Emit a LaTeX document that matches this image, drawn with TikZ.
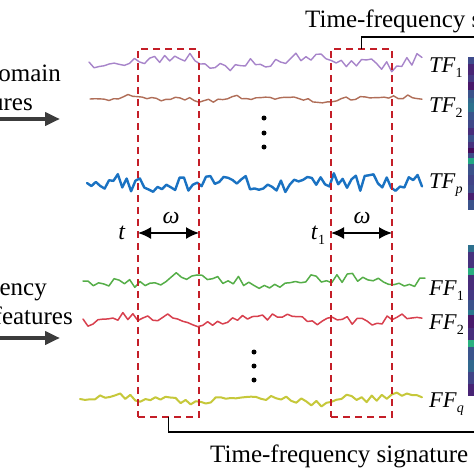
\documentclass[tikz,border=0pt]{standalone}
\usepackage{fontspec}
\setmainfont{Liberation Serif}
\usetikzlibrary{arrows.meta}
\definecolor{boxred}{HTML}{C41E28}
\definecolor{arrgray}{HTML}{3C3C3C}
\definecolor{cP}{HTML}{A784CA}
\definecolor{cB}{HTML}{B06E58}
\definecolor{cBl}{HTML}{1A72C2}
\definecolor{cG}{HTML}{55AE48}
\definecolor{cR}{HTML}{D8404E}
\definecolor{cY}{HTML}{C6C83A}
\newcommand\mysub[1]{\raisebox{-5pt}{\fontsize{14}{14}\selectfont #1}}
\newcommand\mysignal[8]{%
  \pgfmathsetseed{#8}%
  \draw[#1] (#2,#4) \foreach \i in {1,...,#7} { -- ({#2+(#3-#2)/#7*\i},{#4+#5*rand+#6*sin(\i*13+#8*7)+0.6*#6*sin(\i*31+#8)}) };%
}
\begin{document}
\begin{tikzpicture}[x=1pt,y=-1pt,
  lbl/.style={font=\fontsize{25}{30}\selectfont, inner sep=0pt},
  siglbl/.style={font=\fontsize{22.5}{26}\selectfont, inner sep=0pt, anchor=base west},
  symlbl/.style={font=\fontsize{24}{28}\selectfont, inner sep=0pt, anchor=base},
  winbox/.style={draw=boxred, line width=2.2pt, dash pattern=on 7pt off 5pt, minimum width=61pt, minimum height=368pt, inner sep=0pt, outer sep=0pt},
  bigarrow/.style={draw=arrgray, line width=4pt, -{Triangle[length=15pt,width=13pt]}, arrgray},
  dblarrow/.style={line width=1.6pt, {Latex[length=13pt,width=12pt]}-{Latex[length=13pt,width=12pt]}},
  bracket/.style={draw=black, line width=1.1pt},
  sigbase/.style={line join=round, line cap=round},
  sigP/.style={sigbase, draw=cP, line width=1.4pt},
  sigB/.style={sigbase, draw=cB, line width=1.4pt},
  sigBl/.style={sigbase, draw=cBl, line width=2.4pt},
  sigG/.style={sigbase, draw=cG, line width=1.5pt},
  sigR/.style={sigbase, draw=cR, line width=1.5pt},
  sigY/.style={sigbase, draw=cY, line width=2pt}
]
\useasboundingbox (0,0) rectangle (474,474);
\clip (0,0) rectangle (474,474);
\fill[white] (0,0) rectangle (474,474);

% signals
\mysignal{sigP}{89}{422}{62}{5.5}{4}{66}{11}
\mysignal{sigB}{90}{422}{99}{2.2}{1.5}{70}{23}
\mysignal{sigBl}{87}{422}{183}{8.5}{2}{76}{37}
\mysignal{sigG}{83}{425}{281}{4.5}{3.5}{66}{51}
\mysignal{sigR}{83}{422}{319}{4}{3}{68}{67}
\mysignal{sigY}{80}{422}{399}{3.5}{3}{68}{79}

% dots
\foreach \yy in {118,133,147} {\fill (264,\yy) circle[radius=2.5pt];}
\foreach \yy in {352,366,380} {\fill (254,\yy) circle[radius=2.5pt];}

% windows
\node[winbox] (boxL) at (168.5,233) {};
\node[winbox] (boxR) at (361.5,233) {};

% window arrows and labels
\draw[dblarrow] (boxL.west) -- (boxL.east);
\draw[dblarrow] (boxR.west) -- (boxR.east);
\node[symlbl] (tL) at (122,239) {\textit{t}};
\node[symlbl] (wL) at (171,223) {\textit{ω}};
\node[symlbl] (tR) at (318,239) {\textit{t}\mysub{1}};
\node[symlbl] (wR) at (362,223) {\textit{ω}};

% brackets
\coordinate (tbR) at (480,37);
\coordinate (bbR) at (480,432);
\draw[bracket] (boxR.north) |- (tbR);
\draw[bracket] (boxL.south) |- (bbR);

% titles
\node[lbl, anchor=base west] (tt) at (305,27) {Time-frequency s};
\node[lbl, anchor=base west] (bt) at (210,462) {Time-frequency signature};

% left texts and arrows
\node[lbl, anchor=base east] (td1) at (61,81) {omain};
\node[lbl, anchor=base east] (td2) at (33,110) {ures};
\node[lbl, anchor=base east] (fd1) at (47,295) {ency};
\node[lbl, anchor=base east] (fd2) at (73,324) {features};
\coordinate (a1s) at (-5,119);
\coordinate (a1e) at (60,119);
\coordinate (a2s) at (-5,338);
\coordinate (a2e) at (60,338);
\draw[bigarrow] (a1s) -- (a1e);
\draw[bigarrow] (a2s) -- (a2e);

% signal labels
\node[siglbl] (tf1) at (429,72) {\textit{TF}\mysub{1}};
\node[siglbl] (tf2) at (429,112) {\textit{TF}\mysub{2}};
\node[siglbl] (tfp) at (429,188) {\textit{TF}\mysub{\textit{p}}};
\node[siglbl] (ff1) at (429,295) {\textit{FF}\mysub{1}};
\node[siglbl] (ff2) at (429,329) {\textit{FF}\mysub{2}};
\node[siglbl] (ffq) at (429,407) {\textit{FF}\mysub{\textit{q}}};

% heat strips
\foreach \a/\b/\c in {57/64/3F4C8C,64/75/482575,75/82/443A83,82/90/48186A,90/98/3B528B,98/103/31688E,103/112/2C728E,112/120/3A548C,120/128/3F4889,128/135/472D7B,135/142/3B518B,142/148/46327E,148/153/450C5C,153/158/3E4A89,158/164/22A884,164/175/3B528B,175/185/414487,185/193/3E4C8A,193/200/481F70,200/210/3B528B}
  {\definecolor{tmpc}{HTML}{\c}\fill[tmpc] (468,\a) rectangle (475,\b);}
\foreach \a/\b/\c in {245/252/2D708E,252/268/46327E,268/275/28AE80,275/290/472C7A,290/300/443983,300/310/3B528B,310/315/2A788E,315/328/481A6C,328/340/472F7D,340/347/2AB07F,347/360/3A548C,360/372/31688E,372/384/414487,384/396/482475}
  {\definecolor{tmpc}{HTML}{\c}\fill[tmpc] (468,\a) rectangle (475,\b);}
\end{tikzpicture}
\end{document}
